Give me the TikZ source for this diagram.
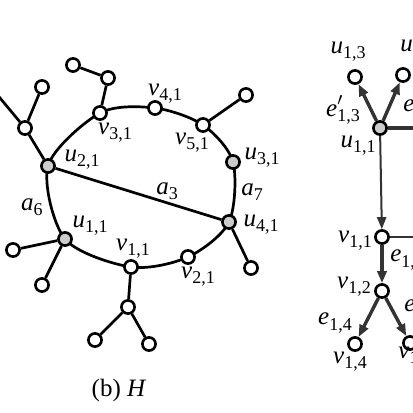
\documentclass[tikz,border=0pt]{standalone}
\usepackage{fontspec}
\setmainfont{Liberation Serif}
\usetikzlibrary{arrows.meta}
\newcommand{\ix}[2]{\textit{#1}\raisebox{-0.45ex}{\fontsize{9}{9}\selectfont #2}}
\newcommand{\ixp}[2]{\textit{#1}\rlap{\raisebox{0.9ex}{\fontsize{9}{9}\selectfont$\prime$}}\raisebox{-0.45ex}{\fontsize{9}{9}\selectfont #2}}

\tikzset{
  vtx/.style={circle, draw=black, line width=1.3pt, fill=white, inner sep=0pt, minimum size=6.6pt},
  gvtx/.style={vtx, fill=black!20},
  lbl/.style={inner sep=0pt, font=\fontsize{12.5}{14}\selectfont},
  hedge/.style={line width=1.35pt},
  tarc/.style={line width=1.7pt, draw=black!80, -{Triangle[length=6pt,width=4.6pt]}},
}

\begin{document}
\begin{tikzpicture}[x=0.5pt, y=-0.5pt] % {{{
\useasboundingbox (0,0) rectangle (413,413);
\clip (0,0) rectangle (413,413);
% (b) H
\begin{scope}
\coordinate (cu21) at (48,166);
\coordinate (cv31) at (100,113);
\coordinate (cv41) at (155,108);
\coordinate (cv51) at (203,125);
\coordinate (cu31) at (233,162);
\coordinate (cu41) at (229,222);
\coordinate (cv21) at (188,257);
\coordinate (cv11) at (131,267);
\coordinate (cu11) at (65,239);
\draw[hedge] plot[smooth cycle] coordinates {(cu21) (cv31) (cv41) (cv51) (cu31) (cu41) (cv21) (cv11) (cu11)};
\node[gvtx] (u21) at (cu21) {};
\node[vtx] (v31) at (cv31) {};
\node[vtx] (v41) at (cv41) {};
\node[vtx] (v51) at (cv51) {};
\node[gvtx] (u31) at (cu31) {};
\node[gvtx] (u41) at (cu41) {};
\node[vtx] (v21) at (cv21) {};
\node[vtx] (v11) at (cv11) {};
\node[gvtx] (u11) at (cu11) {};
% pendant trees
\node[vtx] (p1) at (25,128) {};
\node[vtx] (p2) at (42,87) {};
\coordinate (w0) at (-15,80);
\node[vtx] (p3) at (108,78) {};
\node[vtx] (p4) at (73,65) {};
\node[vtx] (p5) at (246,95) {};
\node[vtx] (p6) at (251,268) {};
\node[vtx] (p7) at (13,250) {};
\node[vtx] (p8) at (42,285) {};
\node[vtx] (p9) at (128,307) {};
\node[vtx] (p10) at (95,340) {};
\node[vtx] (p11) at (149,344) {};
\draw[hedge] (u21) -- (u41);
\draw[hedge] (u21) -- (p1) (p1) -- (p2) (p1) -- (w0);
\draw[hedge] (v31) -- (p3) (p3) -- (p4);
\draw[hedge] (v51) -- (p5);
\draw[hedge] (u41) -- (p6);
\draw[hedge] (u11) -- (p7) (u11) -- (p8);
\draw[hedge] (v11) -- (p9) (p9) -- (p10) (p9) -- (p11);
% labels
\node[lbl] (tu21) at (82,160) {\ix{u}{2,1}};
\node[lbl] (tv31) at (115,133) {\ix{v}{3,1}};
\node[lbl] (tv41) at (165,94) {\ix{v}{4,1}};
\node[lbl] (tv51) at (192,143) {\ix{v}{5,1}};
\node[lbl] (tu31) at (262,158) {\ix{u}{3,1}};
\node[lbl] (tu41) at (261,225) {\ix{u}{4,1}};
\node[lbl] (tv21) at (198,277) {\ix{v}{2,1}};
\node[lbl] (tv11) at (133,249) {\ix{v}{1,1}};
\node[lbl] (tu11) at (90,226) {\ix{u}{1,1}};
\node[lbl] (ta3) at (167,191) {\ix{a}{3}};
\node[lbl] (ta7) at (252,192) {\ix{a}{7}};
\node[lbl] (ta6) at (32,207) {\ix{a}{6}};
\node[lbl] (cap) at (119,390) {(b) \textit{H}};
\end{scope}
% tree
\begin{scope}
\node[gvtx] (ru11) at (380,128) {};
\node[vtx] (ru13) at (355,77) {};
\node[vtx] (ru12) at (403,75) {};
\node[vtx] (rv11) at (382,237) {};
\node[vtx] (rv12) at (382,291) {};
\node[vtx] (rv14) at (355,344) {};
\node[vtx] (rv15) at (410,343) {};
\coordinate (ra) at (430,128);
\coordinate (rb) at (430,237);
\draw[tarc] (ru11) -- (ru13);
\draw[tarc] (ru11) -- (ru12);
\draw[tarc, line width=1pt] (ru11) -- (rv11);
\draw[tarc] (rv11) -- (rv12);
\draw[tarc] (rv12) -- (rv14);
\draw[tarc] (rv12) -- (rv15);
\draw[line width=1.7pt, black!80] (ru11) -- (ra);
\draw[line width=1.3pt, black!80] (rv11) -- (rb);
\node[lbl] (su13) at (348,52) {\ix{u}{1,3}};
\node[lbl, anchor=west] (su12) at (400,50) {\ix{u}{1,2}};
\node[lbl] (se13) at (343,110) {\ixp{e}{1,3}};
\node[lbl, anchor=west] (se12) at (403,105) {\ixp{e}{1,2}};
\node[lbl] (su11) at (358,146) {\ix{u}{1,1}};
\node[lbl] (sv11) at (355,241) {\ix{v}{1,1}};
\node[lbl, anchor=west] (sf12) at (390,260) {\ix{e}{1,2}};
\node[lbl] (sv12) at (354,287) {\ix{v}{1,2}};
\node[lbl] (sf14) at (335,323) {\ix{e}{1,4}};
\node[lbl, anchor=west] (sf15) at (404,310) {\ix{e}{1,5}};
\node[lbl] (sv14) at (350,362) {\ix{v}{1,4}};
\node[lbl, anchor=west] (sv15) at (398,357) {\ix{v}{1,5}};
\end{scope} % }}}
\end{tikzpicture}
\end{document}
